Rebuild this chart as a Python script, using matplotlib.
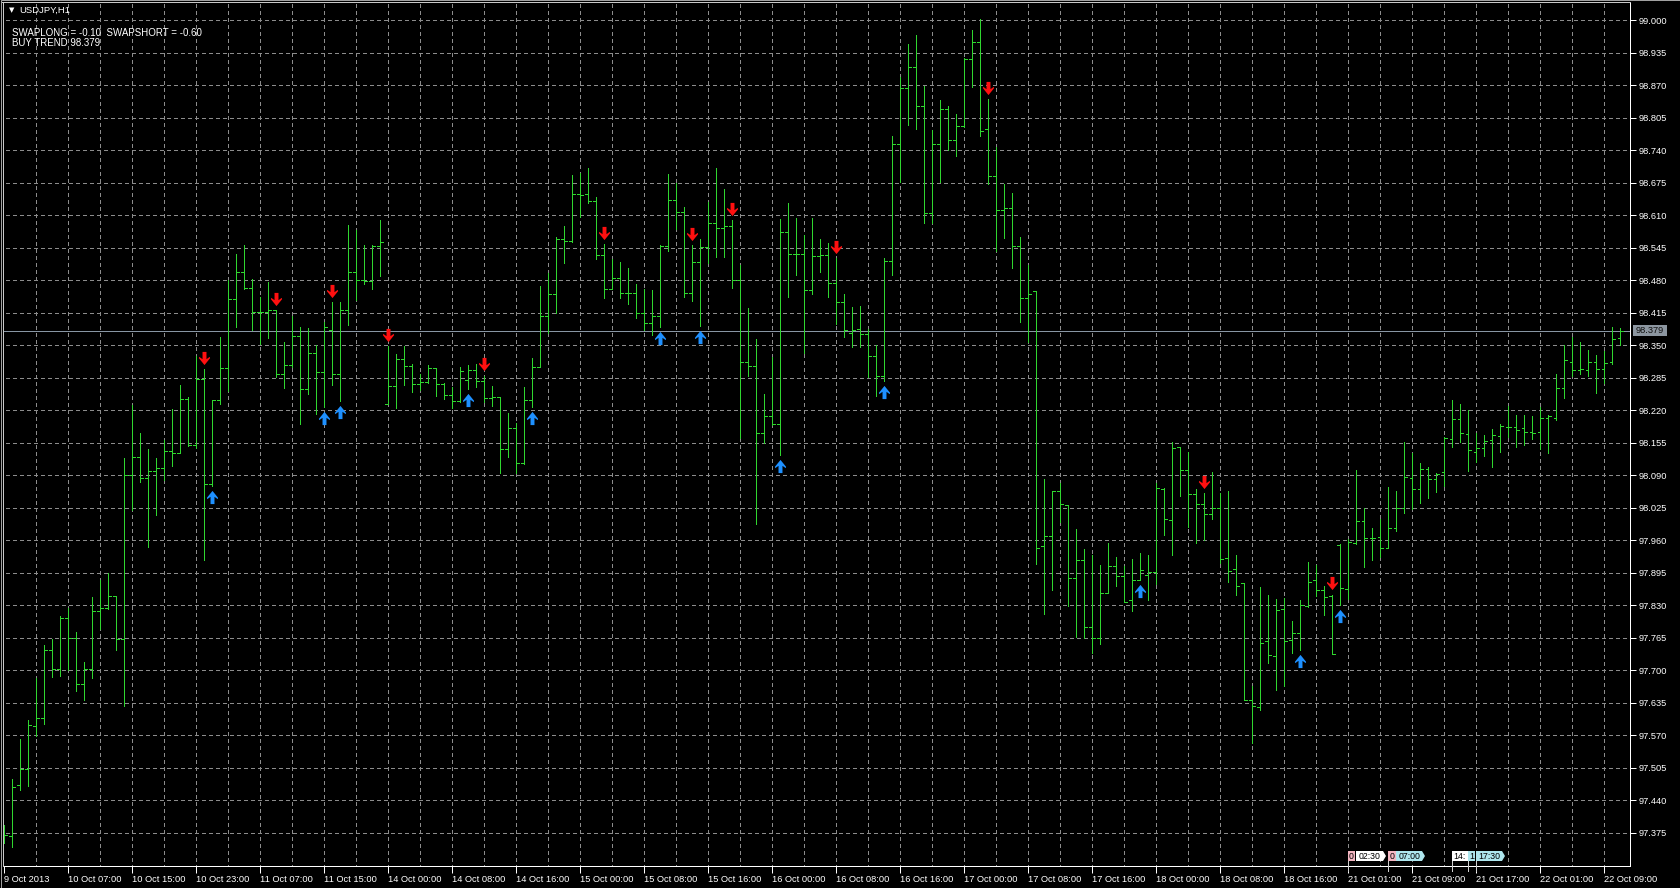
import numpy as np
import matplotlib.pyplot as plt
from matplotlib.collections import LineCollection
from matplotlib.path import Path
from matplotlib.patches import Polygon, Rectangle

plt.rcParams['font.family'] = ['Liberation Sans', 'DejaVu Sans']
plt.rcParams['lines.scale_dashes'] = False

# USDJPY H1 bars, index 0 = 9 Oct 2013 23:00
opens = [97.370, 97.369, 97.470, 97.503, 97.589, 97.604, 97.740, 97.702, 97.804, 97.764,
         97.672, 97.703, 97.818, 97.824, 97.848, 97.763, 98.090, 98.126, 98.084, 98.098,
         98.104, 98.139, 98.135, 98.242, 98.151, 98.283, 98.072, 98.240, 98.304, 98.443,
         98.496, 98.464, 98.416, 98.416, 98.420, 98.293, 98.311, 98.368, 98.263, 98.335,
         98.296, 98.381, 98.293, 98.421, 98.496, 98.481, 98.478, 98.548, 98.233, 98.268,
         98.323, 98.308, 98.272, 98.276, 98.304, 98.272, 98.250, 98.239, 98.280, 98.300,
         98.279, 98.244, 98.246, 98.142, 98.184, 98.114, 98.240, 98.306, 98.408, 98.452,
         98.562, 98.559, 98.652, 98.652, 98.639, 98.530, 98.462, 98.485, 98.455, 98.455,
         98.414, 98.394, 98.408, 98.549, 98.640, 98.616, 98.455, 98.516, 98.547, 98.594,
         98.584, 98.589, 98.480, 98.317, 98.308, 98.175, 98.209, 98.192, 98.576, 98.532,
         98.532, 98.460, 98.528, 98.530, 98.474, 98.437, 98.375, 98.383, 98.372, 98.328,
         98.289, 98.518, 98.753, 98.865, 98.906, 98.828, 98.615, 98.752, 98.823, 98.760,
         98.788, 98.923, 98.956, 98.782, 98.689, 98.621, 98.624, 98.548, 98.444, 98.459,
         97.949, 97.969, 98.058, 98.031, 97.884, 97.921, 97.787, 97.765, 97.854, 97.909,
         97.889, 97.840, 97.880, 97.891, 97.896, 98.062, 98.000, 98.146, 98.100, 98.053,
         98.033, 98.013, 98.024, 97.924, 97.902, 97.874, 97.641, 97.626, 97.758, 97.729,
         97.822, 97.761, 97.774, 97.829, 97.880, 97.861, 97.848, 97.951, 97.862, 97.955,
         97.999, 97.965, 97.966, 97.945, 97.985, 98.024, 98.085, 98.062, 98.102, 98.082,
         98.096, 98.163, 98.202, 98.173, 98.137, 98.144, 98.160, 98.169, 98.186, 98.186,
         98.185, 98.177, 98.176, 98.204, 98.205, 98.264, 98.316, 98.300, 98.300, 98.316,
         98.302, 98.316, 98.365]
highs = [97.390, 97.483, 97.562, 97.601, 97.685, 97.751, 97.762, 97.809, 97.824, 97.776,
         97.716, 97.847, 97.881, 97.895, 97.848, 98.124, 98.231, 98.175, 98.143, 98.125,
         98.161, 98.223, 98.271, 98.247, 98.329, 98.302, 98.241, 98.366, 98.480, 98.532,
         98.551, 98.483, 98.446, 98.476, 98.420, 98.356, 98.408, 98.386, 98.385, 98.350,
         98.396, 98.436, 98.436, 98.590, 98.580, 98.550, 98.550, 98.600, 98.348, 98.333,
         98.348, 98.313, 98.292, 98.310, 98.304, 98.274, 98.266, 98.306, 98.310, 98.312,
         98.289, 98.268, 98.246, 98.214, 98.194, 98.266, 98.324, 98.468, 98.494, 98.566,
         98.588, 98.690, 98.695, 98.704, 98.646, 98.552, 98.522, 98.517, 98.504, 98.472,
         98.462, 98.460, 98.550, 98.692, 98.675, 98.626, 98.550, 98.562, 98.637, 98.704,
         98.662, 98.600, 98.510, 98.424, 98.362, 98.252, 98.326, 98.602, 98.634, 98.604,
         98.570, 98.604, 98.562, 98.554, 98.524, 98.452, 98.427, 98.429, 98.382, 98.350,
         98.524, 98.768, 98.887, 98.952, 98.970, 98.869, 98.780, 98.840, 98.828, 98.813,
         98.925, 98.980, 99.003, 98.842, 98.747, 98.672, 98.654, 98.567, 98.510, 98.459,
         98.083, 98.059, 98.074, 98.031, 97.982, 97.943, 97.931, 97.911, 97.954, 97.926,
         97.909, 97.922, 97.934, 97.931, 98.074, 98.064, 98.156, 98.146, 98.136, 98.062,
         98.054, 98.096, 98.054, 98.059, 97.931, 97.874, 97.669, 97.866, 97.851, 97.843,
         97.844, 97.799, 97.840, 97.917, 97.910, 97.869, 97.851, 97.953, 97.962, 98.100,
         98.024, 97.984, 98.002, 98.066, 98.058, 98.156, 98.134, 98.114, 98.106, 98.095,
         98.166, 98.240, 98.232, 98.220, 98.175, 98.170, 98.182, 98.192, 98.228, 98.210,
         98.211, 98.208, 98.227, 98.210, 98.292, 98.350, 98.367, 98.356, 98.340, 98.330,
         98.338, 98.387, 98.384]
lows = [97.355, 97.347, 97.460, 97.469, 97.569, 97.593, 97.687, 97.689, 97.701, 97.659,
        97.641, 97.684, 97.783, 97.822, 97.740, 97.629, 98.020, 98.077, 97.946, 98.010,
        98.080, 98.108, 98.134, 98.148, 98.144, 97.920, 98.069, 98.233, 98.258, 98.386,
        98.463, 98.380, 98.353, 98.365, 98.286, 98.265, 98.306, 98.193, 98.252, 98.213,
        98.226, 98.270, 98.238, 98.390, 98.440, 98.473, 98.462, 98.488, 98.233, 98.225,
        98.270, 98.256, 98.261, 98.274, 98.248, 98.242, 98.224, 98.236, 98.262, 98.267,
        98.236, 98.228, 98.094, 98.126, 98.094, 98.112, 98.226, 98.306, 98.374, 98.414,
        98.514, 98.556, 98.606, 98.635, 98.522, 98.444, 98.462, 98.444, 98.432, 98.404,
        98.380, 98.370, 98.387, 98.539, 98.582, 98.446, 98.439, 98.388, 98.514, 98.526,
        98.526, 98.464, 98.164, 98.288, 97.993, 98.155, 98.190, 98.130, 98.446, 98.490,
        98.334, 98.452, 98.497, 98.447, 98.392, 98.367, 98.346, 98.347, 98.287, 98.248,
        98.278, 98.491, 98.677, 98.790, 98.782, 98.595, 98.595, 98.677, 98.741, 98.728,
        98.786, 98.866, 98.768, 98.672, 98.539, 98.565, 98.504, 98.396, 98.357, 97.912,
        97.812, 97.861, 97.997, 97.828, 97.767, 97.764, 97.734, 97.752, 97.854, 97.868,
        97.837, 97.819, 97.880, 97.841, 97.873, 97.971, 97.931, 98.049, 97.986, 97.954,
        97.961, 98.002, 97.914, 97.876, 97.850, 97.641, 97.554, 97.621, 97.715, 97.661,
        97.669, 97.735, 97.740, 97.827, 97.848, 97.811, 97.732, 97.831, 97.842, 97.952,
        97.907, 97.920, 97.926, 97.944, 97.979, 98.015, 98.022, 98.035, 98.044, 98.057,
        98.068, 98.147, 98.157, 98.099, 98.117, 98.128, 98.106, 98.137, 98.167, 98.147,
        98.150, 98.162, 98.142, 98.134, 98.200, 98.244, 98.288, 98.292, 98.288, 98.254,
        98.274, 98.312, 98.350]
closes = [97.370, 97.467, 97.503, 97.591, 97.604, 97.740, 97.702, 97.804, 97.764, 97.672,
          97.703, 97.818, 97.824, 97.848, 97.763, 98.090, 98.126, 98.084, 98.098, 98.104,
          98.139, 98.135, 98.242, 98.151, 98.283, 98.072, 98.240, 98.304, 98.443, 98.496,
          98.464, 98.416, 98.416, 98.420, 98.293, 98.311, 98.368, 98.263, 98.335, 98.296,
          98.386, 98.293, 98.421, 98.496, 98.481, 98.478, 98.548, 98.556, 98.268, 98.323,
          98.308, 98.272, 98.276, 98.304, 98.272, 98.250, 98.239, 98.299, 98.300, 98.279,
          98.244, 98.246, 98.142, 98.184, 98.114, 98.240, 98.306, 98.408, 98.452, 98.562,
          98.559, 98.652, 98.650, 98.639, 98.530, 98.462, 98.485, 98.455, 98.455, 98.414,
          98.394, 98.408, 98.549, 98.640, 98.616, 98.455, 98.516, 98.547, 98.594, 98.584,
          98.589, 98.480, 98.317, 98.308, 98.175, 98.209, 98.192, 98.576, 98.532, 98.532,
          98.460, 98.528, 98.530, 98.474, 98.437, 98.380, 98.380, 98.372, 98.328, 98.289,
          98.518, 98.753, 98.865, 98.906, 98.828, 98.615, 98.752, 98.823, 98.760, 98.788,
          98.923, 98.956, 98.778, 98.689, 98.621, 98.625, 98.548, 98.444, 98.452, 97.945,
          97.969, 98.058, 98.033, 97.884, 97.921, 97.787, 97.765, 97.854, 97.909, 97.889,
          97.837, 97.880, 97.901, 97.896, 98.064, 98.002, 98.144, 98.100, 98.053, 98.033,
          98.013, 98.024, 97.922, 97.898, 97.868, 97.641, 97.629, 97.754, 97.731, 97.821,
          97.759, 97.774, 97.831, 97.877, 97.860, 97.847, 97.732, 97.865, 97.957, 97.999,
          97.964, 97.964, 97.945, 97.985, 98.024, 98.087, 98.062, 98.102, 98.082, 98.092,
          98.164, 98.202, 98.174, 98.140, 98.144, 98.158, 98.170, 98.188, 98.186, 98.180,
          98.176, 98.175, 98.204, 98.208, 98.265, 98.320, 98.300, 98.302, 98.317, 98.302,
          98.314, 98.362, 98.379]

# signal arrows (bar indices)
sell_bars = [25, 34, 41, 48, 60, 75, 86, 91, 104, 123, 150, 166]
buy_bars = [26, 40, 42, 58, 66, 82, 87, 97, 110, 142, 162, 167]

time_labels = ['9 Oct 2013', '10 Oct 07:00', '10 Oct 15:00', '10 Oct 23:00', '11 Oct 07:00',
               '11 Oct 15:00', '14 Oct 00:00', '14 Oct 08:00', '14 Oct 16:00', '15 Oct 00:00',
               '15 Oct 08:00', '15 Oct 16:00', '16 Oct 00:00', '16 Oct 08:00', '16 Oct 16:00',
               '17 Oct 00:00', '17 Oct 08:00', '17 Oct 16:00', '18 Oct 00:00', '18 Oct 08:00',
               '18 Oct 16:00', '21 Oct 01:00', '21 Oct 09:00', '21 Oct 17:00', '22 Oct 01:00',
               '22 Oct 09:00']
price_labels = ['99.000', '98.935', '98.870', '98.805', '98.740', '98.675', '98.610', '98.545',
                '98.480', '98.415', '98.350', '98.285', '98.220', '98.155', '98.090', '98.025',
                '97.960', '97.895', '97.830', '97.765', '97.700', '97.635', '97.570', '97.505',
                '97.440', '97.375']
bid = 98.379

W, H = 1680, 888
fig = plt.figure(figsize=(W / 100, H / 100), dpi=100, facecolor='black')
ax = fig.add_axes([3 / W, 22 / H, 1627 / W, 863 / H], facecolor='black')
ax.set_xlim(-0.16, 203.2)
ax.set_ylim(97.3084, 99.034)

px = 0.72  # one pixel in points
grid_c = '#8c8c8c'
x = np.arange(len(opens))
prices = [float(p) for p in price_labels]

# dashed grid
ax.hlines(prices, -1, 205, colors=grid_c, linewidth=px, linestyles=(0, (2.2, 2.2)),
          antialiased=False, zorder=1)
ax.vlines(x[4::4], 97, 100, colors=grid_c, linewidth=px, linestyles=(0, (2.2, 2.2)),
          antialiased=False, zorder=1)

# bid line
ax.axhline(bid, color='#8896a4', linewidth=px, antialiased=False, zorder=2)

# OHLC bars
t = 0.36
segs = []
for i in x:
    segs.append([(i, lows[i]), (i, highs[i])])
    segs.append([(i - t, opens[i]), (i, opens[i])])
    segs.append([(i, closes[i]), (i + t, closes[i])])
ax.add_collection(LineCollection(segs, colors='#2fd62f', linewidths=px, antialiased=False,
                                 zorder=3))

# arrow markers
down = Path([(-0.3, 1.0), (0.3, 1.0), (0.3, -0.1), (0.8, 0.25), (0.85, 0.05), (0.0, -1.0),
             (-0.85, 0.05), (-0.8, 0.25), (-0.3, -0.1), (-0.3, 1.0)], closed=True)
up = Path([(vx, -vy) for vx, vy in down.vertices], closed=True)
ax.plot(sell_bars, [highs[i] + 0.023 for i in sell_bars], linestyle='none', marker=down,
        markersize=9.5, color='#ff1010', markeredgewidth=0, zorder=4)
ax.plot(buy_bars, [lows[i] - 0.022 for i in buy_bars], linestyle='none', marker=up,
        markersize=9.5, color='#1e90ff', markeredgewidth=0, zorder=4)

# axes / ticks
for s in ['top', 'left']:
    ax.spines[s].set_visible(False)
for s in ['right', 'bottom']:
    ax.spines[s].set_color('white')
    ax.spines[s].set_linewidth(px)
ax.yaxis.tick_right()
ax.set_yticks(prices)
ax.set_yticklabels(price_labels)
ax.set_xticks(x[::8])
ax.set_xticklabels(time_labels)
for lbl in ax.get_xticklabels():
    lbl.set_horizontalalignment('left')
ax.tick_params(axis='both', colors='white', labelsize=6.7, width=px, direction='out')
ax.tick_params(axis='y', length=4, pad=2)
ax.tick_params(axis='x', length=5, pad=1.5)

# overlay in pixel coordinates for window decorations
ov = fig.add_axes([0, 0, 1, 1])
ov.set_xlim(0, W)
ov.set_ylim(H, 0)
ov.axis('off')
ov.patch.set_alpha(0)

ov.add_patch(Rectangle((0.5, 0.5), W - 1, H - 1, fill=False, edgecolor='#a0a0a0', linewidth=px))
ov.plot([2.5, 2.5], [2, 866], color='#c8c8c8', linewidth=px)
ov.plot([2, 1630], [2.5, 2.5], color='#c8c8c8', linewidth=px)

ov.text(9, 10.5, '\u25bc', color='white', fontsize=5, va='center', family='DejaVu Sans')
ov.text(19, 10.5, 'USDJPY,H1', color='white', fontsize=6.8, va='center')
ov.text(11.5, 32.7, 'SWAPLONG = -0.10  SWAPSHORT = -0.60', color='white', fontsize=7,
        va='center')
ov.text(11.5, 43.3, 'BUY TREND 98.379', color='white', fontsize=7, va='center')

# bid price label on the axis
ov.add_patch(Rectangle((1633, 325), 34, 11, facecolor='#8c96a0', edgecolor='none'))
ov.text(1650, 330.7, '98.379', color='#101010', fontsize=6.7, ha='center', va='center')


# session time boxes near the time axis
def tag(x0, x1, txt, fc, point=False):
    pts = [(x0, 851), (x1, 851), (x1, 861), (x0, 861)]
    if point:
        pts = [(x0, 851), (x1 - 3, 851), (x1, 856), (x1 - 3, 861), (x0, 861)]
    ov.add_patch(Polygon(pts, closed=True, facecolor=fc, edgecolor='none'))
    ov.text((x0 + x1) / 2 - (1 if point else 0), 856, txt, color='black', fontsize=6.3,
            ha='center', va='center')


pink, cyan = '#f4b6c2', '#aee6ee'
tag(1348, 1355, '0', pink)
tag(1356, 1386, '02:30', 'white', point=True)
tag(1388, 1395.5, '0', pink)
tag(1396, 1425, '07:00', cyan, point=True)
tag(1452, 1467.5, '14:', 'white')
tag(1468, 1475, '1', cyan)
tag(1476, 1505, '17:30', cyan, point=True)
for xv in [1348, 1388, 1452, 1468, 1476]:
    ov.plot([xv, xv], [861, 871], color='#d0d0d0', linewidth=px)

fig.savefig('out.png', dpi=100, facecolor='black')
